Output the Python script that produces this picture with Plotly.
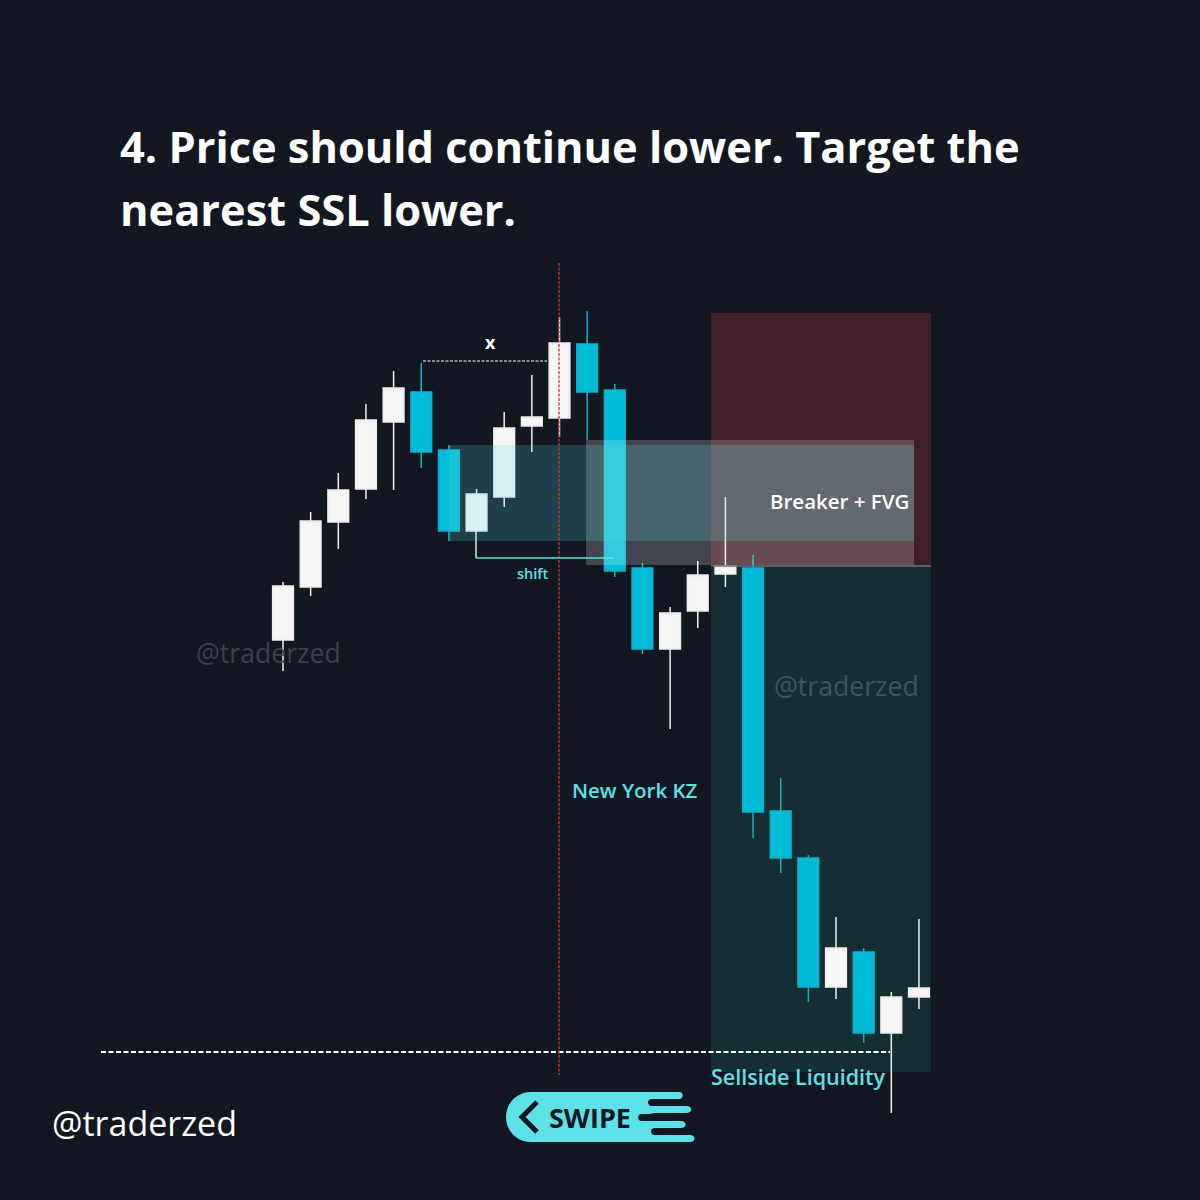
import plotly.graph_objects as go

# Candles (index, price scale: 0-1200 matches the picture height, upward)
candle_index = list(range(24))
open_ = [560, 613, 678, 711, 778, 808, 750, 669, 703, 774, 782, 856, 810, 632, 551, 589, 626, 632, 389, 342, 213, 248, 167, 203]
high_ = [618, 688, 727, 796, 829, 837, 755, 711, 788, 825, 883, 889, 816, 637, 593, 639, 703, 645, 422, 345, 283, 252, 208, 281]
low_ = [529, 604, 651, 701, 710, 732, 659, 669, 693, 748, 763, 760, 623, 546, 471, 572, 613, 362, 327, 198, 201, 157, 87, 191]
close_ = [614, 679, 710, 780, 812, 748, 669, 706, 772, 783, 857, 808, 629, 551, 587, 625, 634, 388, 342, 213, 252, 167, 203, 212]

title_lines = ["4. Price should continue lower. Target the", "nearest SSL lower."]
handle = "@traderzed"

BG = "#121722"
TEAL = "#00bcd6"
WHITE = "#f6f6f6"
CYAN = "#5ce1e6"
W = 1200


def px(x):
    return x / W


def py(y):
    return 1 - y / W


def rect(x0, y0, x1, y1, color, layer="above"):
    return dict(type="rect", xref="paper", yref="paper", x0=px(x0), x1=px(x1), y0=py(y0), y1=py(y1),
                fillcolor=color, line_width=0, layer=layer)


def seg(x0, y0, x1, y1, color, width=1.5, dash="solid"):
    return dict(type="line", xref="paper", yref="paper", x0=px(x0), x1=px(x1), y0=py(y0), y1=py(y1),
                line=dict(color=color, width=width, dash=dash))


def path(cmds, fill, line=None, width=0):
    out = []
    for c in cmds:
        if c == "Z":
            out.append("Z")
            continue
        op, pts = c[0], c[1:]
        out.append(op + " ".join(f"{px(a):.5f},{py(b):.5f}" for a, b in pts))
    return dict(type="path", xref="paper", yref="paper", path=" ".join(out), fillcolor=fill,
                line=dict(color=line or fill, width=width))


def pill(x0, x1, yc, h, color):
    r = h / 2
    k = r * 0.55
    return path([("M", (x0 + r, yc - r)), ("L", (x1 - r, yc - r)),
                 ("C", (x1 - r + k, yc - r), (x1, yc - k), (x1, yc)),
                 ("C", (x1, yc + k), (x1 - r + k, yc + r), (x1 - r, yc + r)),
                 ("L", (x0 + r, yc + r)),
                 ("C", (x0 + r - k, yc + r), (x0, yc + k), (x0, yc)),
                 ("C", (x0, yc - k), (x0 + r - k, yc - r), (x0 + r, yc - r)), "Z"], color)


fig = go.Figure(go.Candlestick(
    x=candle_index, open=open_, high=high_, low=low_, close=close_,
    increasing=dict(line=dict(color="#eeeeef", width=1.5), fillcolor=WHITE),
    decreasing=dict(line=dict(color="#0cb2ca", width=1.5), fillcolor=TEAL),
    hoverinfo="skip", showlegend=False,
))

shapes = [
    rect(711, 313, 931, 566, "#401f29", "below"),
    rect(711, 566, 931, 1072, "#152e34", "below"),
    seg(711, 566, 931, 566, "#6a7378", 1.5),
    rect(586, 440, 914, 565, "rgba(255,255,255,0.2)"),
    rect(449, 445, 914, 541, "rgba(92,225,230,0.2)"),
    seg(423, 361, 547, 361, "#ffffff", 1.2, "3px,1.5px"),
    seg(101, 1052, 890, 1052, "#ffffff", 2, "5px,2.5px"),
    seg(559, 263, 559, 1075, "#d0363f", 1.3, "3px,1.5px"),
    seg(476, 531, 476, 558, "#d8e8ea", 1.5),
    seg(476, 558, 614, 558, CYAN, 1.5),
]

# SWIPE badge
b = [("M", (531, 1092)), ("L", (679, 1092)),
     ("C", (684, 1092), (684, 1099), (679, 1099)),
     ("L", (650, 1099)), ("L", (686, 1106)),
     ("C", (693, 1106), (693, 1113), (686, 1113)),
     ("L", (650, 1113)), ("L", (681, 1121)),
     ("C", (687, 1121), (687, 1128), (681, 1128)),
     ("L", (655, 1128)), ("L", (690, 1135)),
     ("C", (696, 1135), (696, 1142), (690, 1142)),
     ("L", (531, 1142)),
     ("C", (517, 1142), (506, 1131), (506, 1117)),
     ("C", (506, 1103), (517, 1092), (531, 1092)), "Z"]
shapes.append(path(b, CYAN))
shapes += [
    pill(648, 690, 1102.5, 7, BG),
    pill(638, 690, 1117.5, 7, BG),
    pill(651, 690, 1131.5, 7, BG),
    path([("M", (537, 1102)), ("L", (522, 1117)), ("L", (537, 1132))], "rgba(0,0,0,0)", BG, 5),
]


def text(x, y, s, size, color, anchor="left", weight=400, family="Open Sans"):
    dx = {"left": -3, "right": 3, "center": 0}[anchor]
    return dict(xref="paper", yref="paper", x=px(x + dx), y=py(y - 1), text=s, showarrow=False,
                xanchor=anchor, yanchor="middle",
                font=dict(size=size, color=color, family=family, weight=weight))


annotations = [
    text(121, 147, title_lines[0], 43.4, "#ffffff", weight=700),
    text(121, 210, title_lines[1], 43.4, "#ffffff", weight=700),
    text(490, 343, "x", 18, "#ffffff", "center", 700),
    text(533, 574, "shift", 14.5, CYAN, "center", 600),
    text(908, 502, "Breaker + FVG", 20.5, "#ffffff", "right", 600),
    text(635, 791, "New York KZ", 20.5, CYAN, "center", 600),
    text(712, 1077, "Sellside Liquidity", 21.5, CYAN, "left", 600),
    text(197, 654, handle, 26.6, "#3c414b"),
    text(775, 687, handle, 26.6, "#3f575b"),
    text(53, 1124, handle, 34, "#ffffff"),
    text(590, 1118, "SWIPE", 27, BG, "center", 700),
]

fig.update_layout(
    width=W, height=W, margin=dict(l=0, r=0, t=0, b=0),
    paper_bgcolor=BG, plot_bgcolor=BG, boxgap=0.25, boxgroupgap=0,
    shapes=shapes, annotations=annotations, showlegend=False,
    xaxis=dict(range=[-283 / 27.65, (W - 283) / 27.65], visible=False, rangeslider=dict(visible=False), fixedrange=True),
    yaxis=dict(range=[0, W], visible=False, fixedrange=True),
)
fig.write_html("out.html", config=dict(displayModeBar=False),
               post_script="document.body.style.margin='0';document.body.style.background='#121722';")
